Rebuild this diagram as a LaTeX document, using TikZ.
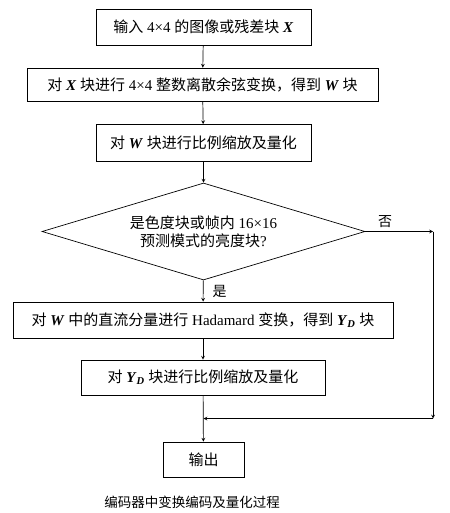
\documentclass[tikz,border=0pt]{standalone}
\usepackage{fontspec}
\setmainfont{Liberation Serif}
\newfontfamily\cjk{Noto Sans CJK SC}
\newcommand\zh[1]{{\cjk #1}}
\newcommand\vb[1]{\textbf{\textit{#1}}}
\usetikzlibrary{shapes.geometric}

\begin{document}
\begin{tikzpicture}[x=1bp, y=-1bp, >=stealth, line width=0.7pt,
  box/.style={draw, inner sep=0pt, minimum height=36bp,
    font=\fontsize{15bp}{18bp}\selectfont},
  lbl/.style={font=\fontsize{14bp}{16bp}\selectfont}]
\useasboundingbox (0,0) rectangle (450,513);

% ============================
% Boxes
% ============================
\node[box, minimum width=215bp] (input) at (203.5,27)
  {\zh{输入} 4×4 \zh{的图像或残差块} \vb{X}};
\node[box, minimum width=351bp, minimum height=33bp] (dct) at (202.5,84.5)
  {\zh{对} \vb{X} \zh{块进行} 4×4 \zh{整数离散余弦变换，得到} \vb{W} \zh{块}};
\node[box, minimum width=215bp, minimum height=37bp] (quant) at (203.5,143)
  {\zh{对} \vb{W} \zh{块进行比例缩放及量化}};

% Decision
\node[box, diamond, aspect=3.33, minimum width=323bp, minimum height=97bp,
  align=center] (check) at (203.5,231.5)
  {\zh{是色度块或帧内} 16×16\\\zh{预测模式的亮度块}?};

\node[box, minimum width=380bp] (hadamard) at (203,320)
  {\zh{对} \vb{W} \zh{中的直流分量进行} Hadamard \zh{变换，得到} \vb{Y}\textsubscript{\vb{D}} \zh{块}};
\node[box, minimum width=244bp, minimum height=35bp] (dcquant) at (203,377.5)
  {\zh{对} \vb{Y}\textsubscript{\vb{D}} \zh{块进行比例缩放及量化}};
\node[box, minimum width=81bp, minimum height=35bp] (output) at (203.5,459.5)
  {\zh{输出}};

% ============================
% Main flow
% ============================
\draw[->] (input) -- (dct);
\draw[->] (dct) -- (quant);
\draw[->] (quant) -- (check);
\draw[->] (check) -- (hadamard);
\node[lbl, right] at (209,291) {\zh{是}};
\draw[->] (hadamard) -- (dcquant);
\draw[->] (dcquant) -- (output);

% ============================
% Bypass on the right
% ============================
\coordinate (bypass) at (433,231.5);
\coordinate (corner) at (433,418.5);
\coordinate (merge)  at (203.5,418.5);

\draw[->] (check.east) -- (bypass);
\node[lbl, above] at (385,231.5) {\zh{否}};
\draw[->] (bypass) -- (corner);
\draw[->] (corner) -- (merge);

% Caption
\node[font=\fontsize{13.5bp}{16bp}\selectfont] (caption) at (192,502)
  {\zh{编码器中变换编码及量化过程}};

\end{tikzpicture}
\end{document}
